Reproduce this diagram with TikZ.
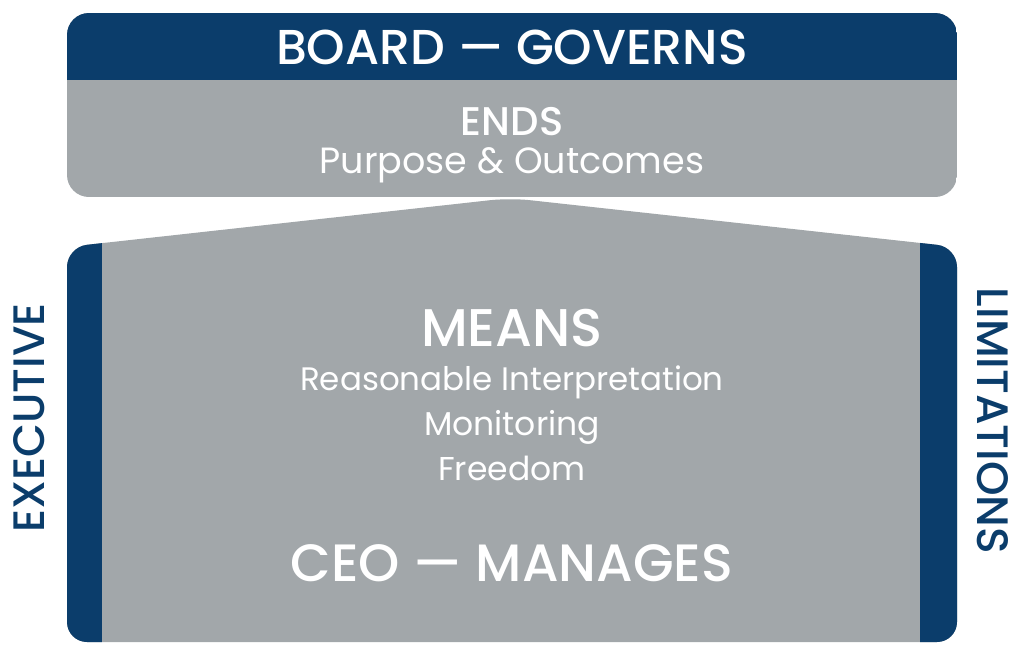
\documentclass[tikz,border=0pt]{standalone}
\usepackage{fontspec}
\setmainfont{Poppins}
\newfontfamily\medfont{Poppins Medium}
\definecolor{navy}{HTML}{0B3D6B}
\definecolor{slate}{HTML}{A2A7AA}
\tikzset{
  whitetxt/.style={text=white, inner sep=0pt, anchor=center},
  sidetxt/.style={text=navy, inner sep=0pt, anchor=center, font=\medfont\fontsize{44}{46}\selectfont},
}
\begin{document}
\begin{tikzpicture}[x=1pt,y=-1pt]
\useasboundingbox (0,0) rectangle (1024,659);
% top box
\begin{scope}
  \clip[rounded corners=22] (67,13) rectangle (957,197);
  \fill[slate] (67,13) rectangle (957,197);
  \fill[navy] (67,13) rectangle (957,80);
\end{scope}
% house
\begin{scope}
  \clip[rounded corners=20] (67,642) -- (67,247) -- (510,198) -- (957,247) -- (957,642) -- cycle;
  \fill[slate] (60,190) rectangle (965,650);
  \fill[navy] (60,190) rectangle (102,650);
  \fill[navy] (920,190) rectangle (965,650);
\end{scope}
\node[whitetxt, font=\medfont\fontsize{49}{51}\selectfont] (board) at (512,47) {BOARD — GOVERNS};
\node[whitetxt, font=\medfont\fontsize{40}{42}\selectfont] (ends) at (512,122) {ENDS};
\node[whitetxt, font=\fontsize{36.5}{38}\selectfont] (purpose) at (512,165) {Purpose \& Outcomes};
\node[whitetxt, font=\medfont\fontsize{53}{55}\selectfont] (means) at (512,328) {MEANS};
\node[whitetxt, font=\fontsize{32.5}{35}\selectfont] (reason) at (512,382) {Reasonable Interpretation};
\node[whitetxt, font=\fontsize{33}{35}\selectfont] (monit) at (512,427) {Monitoring};
\node[whitetxt, font=\fontsize{33}{35}\selectfont] (free) at (512,468) {Freedom};
\node[whitetxt, font=\medfont\fontsize{52.5}{54}\selectfont] (ceo) at (512,563) {CEO — MANAGES};
\node[sidetxt, rotate=90] (exec) at (29,418) {EXECUTIVE};
\node[sidetxt, rotate=-90] (limit) at (993,421) {LIMITATIONS};
\end{tikzpicture}
\end{document}
